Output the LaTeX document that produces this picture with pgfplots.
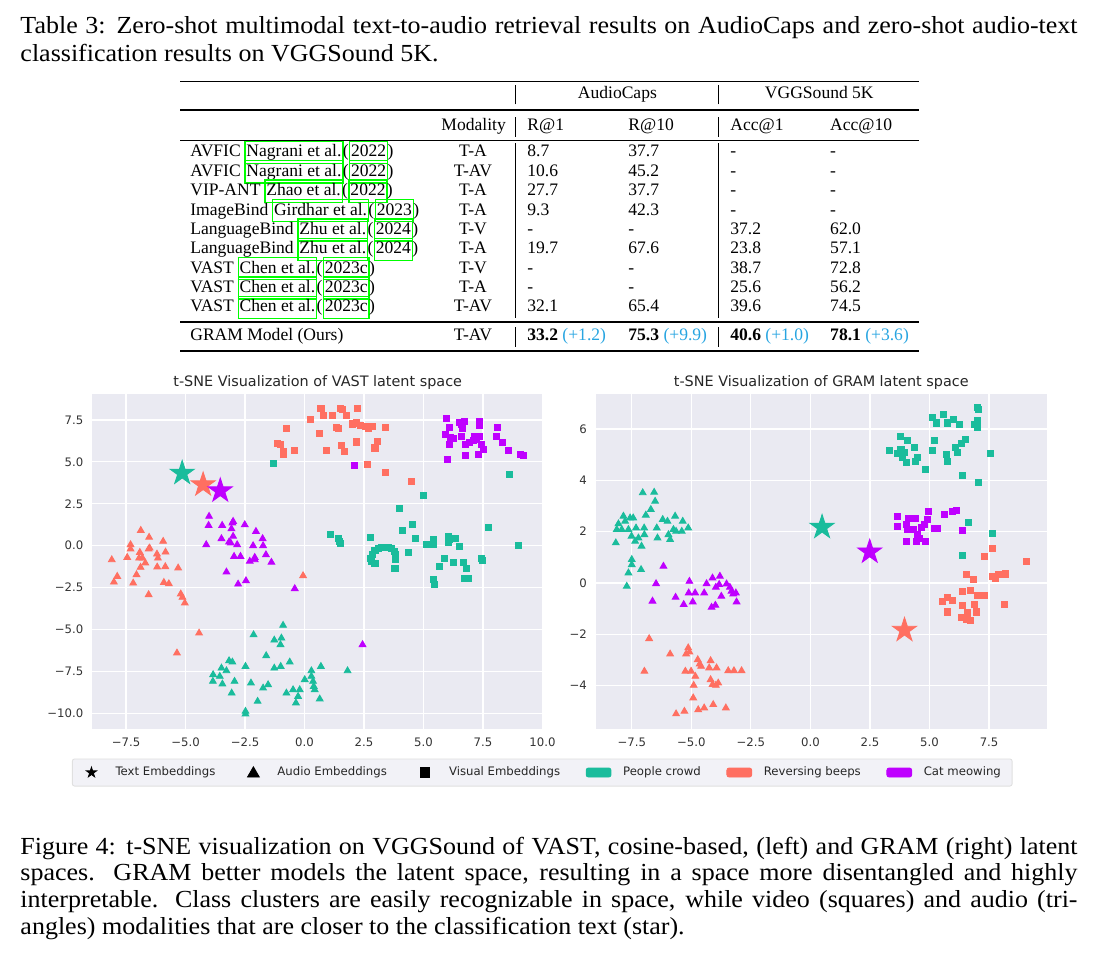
\documentclass[border=0pt]{standalone}
\usepackage{fontspec}
\setmainfont{Liberation Serif}
\newfontfamily\capfont{Liberation Serif}[FakeStretch=1.06]
\newfontfamily\pltfont{DejaVu Sans}
\usepackage{xcolor}
\usepackage{array}
\usepackage{booktabs}
\usepackage{pgfplots}
\pgfplotsset{compat=1.18}

\definecolor{cteal}{RGB}{26,188,156}
\definecolor{csal}{RGB}{255,111,97}
\definecolor{cpur}{RGB}{191,0,255}
\definecolor{cbg}{RGB}{234,234,242}
\definecolor{cblue}{RGB}{40,165,225}
\definecolor{cgreen}{RGB}{0,255,0}

\newcommand\gb[1]{\kern-0.3pt\smash{\fboxsep=0.3pt\fboxrule=0.6pt\color{cgreen}\fbox{\color{black}\rule[-2.3pt]{0pt}{8.6pt}#1}}\kern-0.3pt}
\newcommand\gy[1]{(\kern0.5pt\gb{#1})}

\pgfdeclareplotmark{fstar}{%
 \pgfpathmoveto{\pgfqpointpolar{90}{\pgfplotmarksize}}%
 \pgfpathlineto{\pgfqpointpolar{126}{0.382\pgfplotmarksize}}%
 \pgfpathlineto{\pgfqpointpolar{162}{\pgfplotmarksize}}%
 \pgfpathlineto{\pgfqpointpolar{198}{0.382\pgfplotmarksize}}%
 \pgfpathlineto{\pgfqpointpolar{234}{\pgfplotmarksize}}%
 \pgfpathlineto{\pgfqpointpolar{270}{0.382\pgfplotmarksize}}%
 \pgfpathlineto{\pgfqpointpolar{306}{\pgfplotmarksize}}%
 \pgfpathlineto{\pgfqpointpolar{342}{0.382\pgfplotmarksize}}%
 \pgfpathlineto{\pgfqpointpolar{18}{\pgfplotmarksize}}%
 \pgfpathlineto{\pgfqpointpolar{54}{0.382\pgfplotmarksize}}%
 \pgfpathclose
 \pgfusepathqfillstroke
}

\pgfplotsset{
 tsne/.style={
  scale only axis, width=200.4pt, height=148.9pt,
  axis background/.style={fill=cbg},
  axis line style={draw=none},
  major tick length=0pt,
  grid=major, major grid style={white, line width=0.55pt},
  tick label style={font=\pltfont\fontsize{5.2}{6}\selectfont, text=black!80, inner sep=0pt},
  xticklabel style={anchor=base, yshift=-7.9pt},
  yticklabel style={anchor=east, xshift=-3.8pt},
  every axis title/.style={font=\pltfont\fontsize{6.4}{7.5}\selectfont, text=black!85, at={(0.5,1)}, anchor=base, yshift=3.3pt},
 },
 sq/.style={only marks, mark=square*, mark size=1.35pt, mark options={draw=none}},
 tri/.style={only marks, mark=triangle*, mark size=1.7pt, mark options={draw=none}},
 st/.style={only marks, mark=fstar, mark size=5.6pt, mark options={draw=none}},
}

\begin{document}
\begin{tikzpicture}
\path[use as bounding box] (0pt,0pt) rectangle (487.56pt,-424.9pt);

% Table caption
\node[anchor=base west, inner sep=0pt, text width=469.8pt, align=justify, font=\capfont\fontsize{10.9}{12.6}\selectfont] at (8.9pt,-14.9pt)
{Table 3: Zero-shot multimodal text-to-audio retrieval results on AudioCaps and zero-shot audio-text\linebreak classification results on VGGSound 5K.};

% Table
\node[anchor=north west, inner sep=0pt] at (80pt,-35.6pt) {\fontsize{7.8}{8.6}\selectfont\setlength\tabcolsep{4.9pt}%
\setlength\heavyrulewidth{0.85pt}\setlength\lightrulewidth{0.55pt}%
\setlength\belowrulesep{1.1pt}\setlength\aboverulesep{1.4pt}%
\begin{tabular}{@{\hspace{4.4pt}}>{\raggedright\arraybackslash}p{101.8pt}>{\centering\arraybackslash}p{28pt}|>{\raggedright\arraybackslash}p{35.1pt}>{\raggedright\arraybackslash}p{35.1pt}|>{\raggedright\arraybackslash}p{34.6pt}>{\raggedright\arraybackslash}p{34.7pt}}
\toprule
 & & \multicolumn{2}{c|}{AudioCaps} & \multicolumn{2}{c}{VGGSound 5K}\\
\specialrule{0.55pt}{2.3pt}{2.9pt}
 & Modality & R@1 & R@10 & Acc@1 & Acc@10\\
\midrule
\mbox{AVFIC \gb{Nagrani et al.} \gy{2022}} & T-A & 8.7 & 37.7 & - & -\\
\mbox{AVFIC \gb{Nagrani et al.} \gy{2022}} & T-AV & 10.6 & 45.2 & - & -\\
\mbox{VIP-ANT \gb{Zhao et al.} \gy{2022}} & T-A & 27.7 & 37.7 & - & -\\
\mbox{ImageBind \gb{Girdhar et al.} \gy{2023}} & T-A & 9.3 & 42.3 & - & -\\
\mbox{LanguageBind \gb{Zhu et al.} \gy{2024}} & T-V & - & - & 37.2 & 62.0\\
\mbox{LanguageBind \gb{Zhu et al.} \gy{2024}} & T-A & 19.7 & 67.6 & 23.8 & 57.1\\
\mbox{VAST \gb{Chen et al.} \gy{2023c}} & T-V & - & - & 38.7 & 72.8\\
\mbox{VAST \gb{Chen et al.} \gy{2023c}} & T-A & - & - & 25.6 & 56.2\\
\mbox{VAST \gb{Chen et al.} \gy{2023c}} & T-AV & 32.1 & 65.4 & 39.6 & 74.5\\
\specialrule{0.85pt}{1.4pt}{2.1pt}
\mbox{GRAM Model (Ours)} & T-AV & \mbox{\textbf{33.2} {\color{cblue}(+1.2)}} & \mbox{\textbf{75.3} {\color{cblue}(+9.9)}} & \mbox{\textbf{40.6} {\color{cblue}(+1.0)}} & \mbox{\textbf{78.1} {\color{cblue}(+3.6)}}\\
\bottomrule
\end{tabular}};

% Left plot
\begin{axis}[tsne, at={(41.0pt,-175.1pt)}, anchor=north west,
 title={t-SNE Visualization of VAST latent space},
 xmin=-8.92, xmax=10.03, ymin=-10.93, ymax=9.05,
 xtick={-7.5,-5,-2.5,0,2.5,5,7.5,10}, xticklabels={−7.5,−5.0,−2.5,0.0,2.5,5.0,7.5,10.0},
 ytick={-10,-7.5,-5,-2.5,0,2.5,5,7.5}, yticklabels={−10.0,−7.5,−5.0,−2.5,0.0,2.5,5.0,7.5},
 legend columns=6,
 legend style={at={(0.998,-0.1299)}, anchor=center, draw=black!12, fill=cbg!60, rounded corners=1pt,
   font=\pltfont\fontsize{5.2}{6}\selectfont, text=black!85, inner ysep=1.3pt, inner xsep=3pt,
   /tikz/every even column/.append style={column sep=9.4pt},
   /tikz/every odd column/.append style={column sep=3.2pt}},
]
\addlegendimage{legend image code/.code={\path[draw=none,fill=none] (0pt,-2pt) (11pt,2pt); \draw[black, fill=black, only marks, mark=fstar, mark size=2.3pt] plot coordinates {(5.5pt,0pt)};}}
\addlegendentry{Text Embeddings}
\addlegendimage{legend image code/.code={\path[draw=none,fill=none] (0pt,-2pt) (11pt,2pt); \draw[black, fill=black, only marks, mark=triangle*, mark size=3pt] plot coordinates {(5.5pt,-0.5pt)};}}
\addlegendentry{Audio Embeddings}
\addlegendimage{legend image code/.code={\path[draw=none,fill=none] (0pt,-2pt) (11pt,2pt); \draw[black, fill=black, only marks, mark=square*, mark size=2.1pt] plot coordinates {(5.5pt,0pt)};}}
\addlegendentry{Visual Embeddings}
\addlegendimage{legend image code/.code={\fill[cteal] (0pt,-2pt) rectangle (11pt,2pt);}}
\addlegendentry{People crowd}
\addlegendimage{legend image code/.code={\fill[csal] (0pt,-2pt) rectangle (11pt,2pt);}}
\addlegendentry{Reversing beeps}
\addlegendimage{legend image code/.code={\fill[cpur] (0pt,-2pt) rectangle (11pt,2pt);}}
\addlegendentry{Cat meowing}

% Reversing beeps - visual
\addplot[sq, color=csal, forget plot] coordinates {
(0.69,8.21)(0.81,7.79)(0.24,7.55)(1.19,7.79)(1.53,8.21)(1.60,8.13)(1.78,7.79)(2.23,8.21)
(1.34,7.08)(1.44,7.02)(2.00,7.26)(2.18,7.32)(2.37,7.20)(2.56,7.14)(2.68,7.02)(2.84,7.10)
(3.39,7.06)(-0.74,7.02)(0.62,6.68)(2.17,6.22)(2.20,6.14)(3.08,6.22)(2.96,5.83)(1.55,5.96)
(1.67,5.63)(0.92,5.69)(-0.43,5.69)(-1.12,6.12)(-1.01,6.04)(-0.87,5.59)(-0.90,5.47)
(2.65,4.83)(3.42,4.39)(4.50,3.84)};
% Cat meowing - visual
\addplot[sq, color=cpur, forget plot] coordinates {
(5.97,7.61)(6.11,7.08)(5.94,6.66)(6.13,6.46)(6.25,6.42)(6.11,6.06)(5.99,5.17)(6.53,7.36)
(6.60,7.22)(6.74,7.42)(6.62,7.02)(6.60,6.52)(6.78,6.02)(6.75,5.39)(7.09,6.26)(7.16,6.52)
(7.34,7.38)(7.34,7.16)(7.37,6.52)(7.44,6.02)(7.51,5.73)(7.30,5.43)(8.10,7.08)(8.07,6.52)
(8.31,6.18)(8.56,5.67)(9.08,5.47)(9.22,5.39)(2.11,4.79)(6.95,6.18)(7.23,6.32)};
% People crowd - visual
\addplot[sq, color=cteal, forget plot] coordinates {
(-1.30,4.93)(8.63,4.27)(4.99,3.00)(4.01,2.21)(4.10,0.91)(4.54,1.29)(4.66,0.42)(4.36,-0.42)
(7.72,1.09)(9.01,0.02)(1.11,0.66)(1.41,0.42)(1.48,0.26)(1.53,0.16)(2.77,0.50)
(2.79,-0.74)(2.86,-0.50)(2.96,-0.30)(3.10,-0.18)(3.24,-0.12)(3.38,-0.10)(3.52,-0.12)
(3.66,-0.18)(3.77,-0.34)(3.84,-0.54)(3.84,-0.84)(2.82,-0.93)(2.96,-1.03)(3.80,-1.37)
(5.13,0.10)(5.41,0.36)(5.43,0.06)(6.04,0.56)(6.11,0.36)(6.04,0.22)(6.36,0.42)(6.50,-0.04)
(5.66,-1.23)(5.90,-0.78)(6.25,-1.01)(6.69,-1.01)(6.81,-1.37)(6.74,-1.93)(6.88,-1.97)
(5.43,-2.03)(5.45,-2.33)(7.44,-0.74)(7.48,-0.89)};
% Reversing beeps - audio
\addplot[tri, color=csal, forget plot] coordinates {
(-8.10,-0.84)(-7.87,-1.83)(-8.01,-2.17)(-7.45,-0.70)(-7.31,0.06)(-7.31,-0.20)(-6.88,0.91)
(-6.92,-0.40)(-6.95,-0.74)(-6.81,-0.74)(-6.69,-1.03)(-6.89,-1.29)(-7.06,-1.73)(-7.20,-2.23)
(-6.55,-2.92)(-6.53,0.50)(-6.51,-0.14)(-6.55,-0.20)(-6.20,-0.50)(-6.16,-0.74)(-6.19,-1.27)
(-5.94,0.26)(-5.84,-0.38)(-5.85,-1.25)(-5.91,-2.19)(-5.70,-2.27)(-5.31,-1.33)(-5.20,-2.88)
(-5.13,-3.08)(-5.03,-3.42)(-4.43,-5.21)(-5.36,-6.40)(-0.06,-1.79)};
% Cat meowing - audio
\addplot[tri, color=cpur, forget plot] coordinates {
(-4.01,1.75)(-4.03,1.21)(-4.13,0.06)(-3.46,1.21)(-3.49,0.42)(-3.03,1.35)(-3.00,1.45)
(-3.07,1.01)(-3.00,0.56)(-3.17,0.22)(-3.10,0.16)(-2.83,0.06)(-2.51,1.25)(-2.96,-0.64)
(-2.69,-0.64)(-3.28,-1.57)(-2.79,-2.29)(-2.46,-2.09)(-2.04,0.85)(-2.16,0.00)(-1.76,0.42)
(-1.74,0.00)(-2.09,-0.70)(-2.09,-0.84)(-2.30,-0.93)(-1.62,-0.54)(-1.39,-0.99)(-0.41,-2.56)
(2.44,-5.90)};
% People crowd - audio
\addplot[tri, color=cteal, forget plot] coordinates {
(-0.90,-4.75)(-0.97,-5.51)(-1.01,-5.90)(-1.27,-5.63)(-2.14,-5.31)(-1.61,-6.56)(-0.62,-6.94)
(-1.00,-7.20)(-1.27,-7.30)(-2.48,-7.20)(-3.17,-6.86)(-3.03,-6.94)(-3.49,-7.30)(-3.28,-7.46)
(-3.84,-7.69)(-3.56,-7.79)(-3.85,-8.09)(-3.45,-8.25)(-2.94,-8.09)(-2.25,-8.19)(-3.06,-8.79)
(-2.48,-9.88)(-2.48,-10.04)(-1.97,-9.28)(-1.74,-8.49)(-1.53,-8.29)(-0.76,-8.79)(-0.48,-8.59)
(-0.20,-8.59)(-0.27,-8.99)(-0.36,-9.38)(0.01,-7.99)(0.29,-7.46)(0.29,-7.79)(0.36,-8.09)
(0.39,-8.39)(0.43,-8.59)(0.64,-9.14)(0.69,-7.20)(1.81,-7.46)};
% Text embeddings
\addplot[st, color=cteal, forget plot] coordinates {(-5.14,4.33)};
\addplot[st, color=csal, forget plot] coordinates {(-4.26,3.64)};
\addplot[st, color=cpur, forget plot] coordinates {(-3.54,3.28)};
\end{axis}

% Right plot
\begin{axis}[tsne, at={(264.8pt,-175.1pt)}, anchor=north west,
 title={t-SNE Visualization of GRAM latent space},
 xmin=-9.01, xmax=9.92, ymin=-5.69, ymax=7.36,
 xtick={-7.5,-5,-2.5,0,2.5,5,7.5}, xticklabels={−7.5,−5.0,−2.5,0.0,2.5,5.0,7.5},
 ytick={-4,-2,0,2,4,6}, yticklabels={−4,−2,0,2,4,6},
]
% People crowd - visual
\addplot[sq, color=cteal] coordinates {
(5.14,6.45)(5.31,6.23)(5.60,6.56)(5.74,6.23)(6.01,6.36)(6.26,6.17)(7.00,6.82)(7.07,6.75)
(7.02,6.32)(6.89,6.17)(7.02,6.04)(3.77,5.71)(4.07,5.55)(3.30,5.16)(3.80,5.19)(3.94,5.10)
(3.87,4.90)(4.04,4.68)(4.37,5.29)(4.41,4.74)(4.51,4.90)(4.82,4.42)(5.21,5.55)(5.14,5.16)
(5.70,5.00)(5.74,4.74)(6.09,5.29)(6.19,5.10)(6.33,5.45)(6.51,5.58)(6.37,4.19)(7.07,3.90)
(7.56,5.06)(6.65,2.34)(7.63,1.91)(6.37,1.08)(3.67,5.06)};
% Cat meowing - visual
\addplot[sq, color=cpur] coordinates {
(3.67,2.60)(3.65,2.21)(4.13,2.51)(4.41,2.51)(4.02,2.27)(4.08,2.08)(4.32,2.08)(4.50,1.88)
(4.46,1.60)(4.05,1.62)(4.82,1.62)(4.65,2.17)(4.79,2.27)(4.97,2.79)(4.93,2.47)(5.21,2.12)
(5.35,2.12)(5.63,2.66)(5.98,2.79)(6.12,2.82)(6.40,2.04)(4.58,1.75)};
% Reversing beeps - visual
\addplot[sq, color=csal] coordinates {
(7.63,1.36)(7.30,1.04)(9.08,0.84)(8.20,0.35)(6.56,0.32)(6.84,0.13)(7.65,0.26)(7.76,0.19)
(7.90,0.32)(6.39,-0.32)(6.70,-0.30)(7.02,-0.48)(7.30,-0.48)(5.56,-0.71)(5.77,-0.58)
(5.98,-0.69)(5.77,-1.13)(6.39,-0.87)(6.89,-0.84)(6.96,-1.13)(6.61,-1.17)(6.33,-1.34)
(6.54,-1.43)(6.70,-1.47)(8.13,-0.84)};
% People crowd - audio
\addplot[tri, color=cteal] coordinates {
(-8.17,1.56)(-8.13,2.08)(-8.06,2.30)(-7.85,2.60)(-7.78,2.40)(-7.92,2.08)(-7.64,2.08)
(-7.57,2.53)(-7.44,2.53)(-7.51,1.82)(-7.32,2.14)(-7.36,1.62)(-7.22,1.75)(-7.09,1.43)
(-7.04,3.51)(-6.98,2.14)(-6.91,2.64)(-6.97,1.88)(-6.70,2.86)(-6.56,3.53)(-6.52,3.18)
(-6.45,2.14)(-6.42,1.75)(-6.00,2.40)(-5.89,1.69)(-5.68,2.60)(-5.75,2.08)(-5.64,2.01)
(-5.36,2.40)(-5.40,2.01)(-5.13,2.14)(-7.50,0.91)(-7.50,0.71)(-7.64,0.39)(-7.71,-0.13)
(-7.11,0.52)(-6.20,2.47)(-5.96,1.88)};
% Cat meowing - audio
\addplot[tri, color=cpur] coordinates {
(-6.17,0.65)(-6.48,-0.03)(-6.63,-0.71)(-5.66,-0.56)(-5.32,-0.84)(-5.08,0.06)(-5.11,-0.39)
(-4.94,-0.74)(-4.84,-0.39)(-4.46,-0.39)(-4.36,-0.03)(-4.11,0.19)(-3.97,-0.17)(-4.15,-0.95)
(-3.99,-0.87)(-3.80,0.26)(-3.83,-0.06)(-3.74,-0.52)(-3.52,-0.04)(-3.38,-0.17)(-3.31,-0.32)
(-3.24,-0.43)(-3.13,-0.39)(-3.10,-0.74)};
% Reversing beeps - audio
\addplot[tri, color=csal] coordinates {
(-6.77,-2.17)(-6.97,-3.44)(-5.89,-2.77)(-5.22,-2.77)(-5.13,-2.53)(-5.08,-2.69)(-5.25,-3.44)
(-5.01,-3.44)(-4.73,-2.99)(-4.65,-3.16)(-4.83,-3.64)(-4.90,-3.99)(-4.92,-4.48)(-4.59,-3.25)
(-4.25,-3.31)(-4.19,-3.03)(-3.94,-3.31)(-4.19,-3.77)(-4.11,-3.96)(-3.87,-3.90)(-3.97,-3.99)
(-4.71,-4.94)(-4.46,-4.87)(-4.08,-4.74)(-3.55,-4.87)(-5.64,-5.10)(-5.29,-5.00)(-3.45,-3.42)
(-3.21,-3.42)(-2.89,-3.42)};
% Text embeddings
\addplot[st, color=cteal] coordinates {(0.49,2.17)};
\addplot[st, color=cpur] coordinates {(2.49,1.21)};
\addplot[st, color=csal] coordinates {(3.95,-1.84)};
\end{axis}

% Figure caption
\node[anchor=base west, inner sep=0pt, text width=469.8pt, align=justify, font=\capfont\fontsize{10.9}{11.85}\selectfont] at (8.9pt,-379.6pt)
{Figure 4: t-SNE visualization on VGGSound of VAST, cosine-based, (left) and GRAM (right) latent\linebreak spaces.  GRAM better models the latent space, resulting in a space more disentangled and highly\linebreak interpretable.  Class clusters are easily recognizable in space, while video (squares) and audio (tri-\linebreak angles) modalities that are closer to the classification text (star).};
\end{tikzpicture}
\end{document}
